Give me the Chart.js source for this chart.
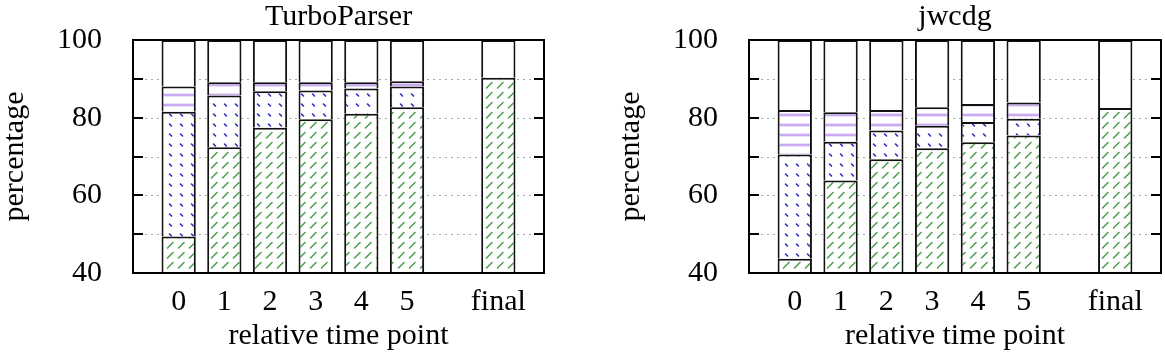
<!DOCTYPE html>
<html><head><meta charset="utf-8">
<script src="https://cdn.jsdelivr.net/npm/chart.js@4/dist/chart.umd.min.js"></script>
<style>
html,body{margin:0;padding:0;background:#fff;width:1165px;height:355px;overflow:hidden}
.w{position:absolute;top:0;height:355px}
canvas{display:block}
</style></head><body>
<div class="w" style="left:0;width:560px"><canvas id="c1" width="560" height="355"></canvas></div>
<div class="w" style="left:616px;width:549px"><canvas id="c2" width="549" height="355"></canvas></div>
<script>
// ---- data (tops of each stacked segment, in percent) ----
const timePoints = ['0', '1', '2', '3', '4', '5', 'final'];
const total = 100;
const tpGreen  = [49.4, 72.4, 77.4, 79.6, 81.0, 82.7, 90.3];
const tpBlue   = [81.5, 85.7, 86.8, 87.0, 87.5, 88.0, null];
const tpPurple = [88.0, 89.1, 89.1, 89.1, 89.1, 89.4, null];
const jwGreen  = [43.7, 63.8, 69.3, 72.1, 73.7, 75.4, 82.5];
const jwBlue   = [70.5, 73.8, 76.7, 77.9, 78.9, 79.7, null];
const jwPurple = [82.0, 81.4, 82.0, 82.7, 83.5, 83.9, null];
const yMin = 40, yMax = 100, yStep = 10;

const FONT = "'Liberation Serif','Times New Roman','DejaVu Serif',serif";
const font = {family: FONT, size: 30, lineHeight: 1, weight: 'normal'};

// slot layout: blank edge, 0..5, blank gap, final, blank edge
const slots = [''].concat(timePoints.slice(0, 6), [''], timePoints.slice(6), ['']);
function toSlots(arr) {
  return slots.map(function (s) {
    const i = timePoints.indexOf(s);
    return (s === '' || i < 0) ? null : arr[i];
  });
}

function makePattern(ctx, kind) {
  const c = document.createElement('canvas');
  const g = c.getContext('2d');
  if (kind === 'green') {
    c.width = 11; c.height = 10;
    g.fillStyle = '#fff'; g.fillRect(0, 0, 11, 10);
    g.strokeStyle = '#52a052'; g.lineWidth = 1.6; g.lineCap = 'round';
    g.beginPath(); g.moveTo(2.5, 8); g.lineTo(8, 2.5); g.stroke();
  } else if (kind === 'blue') {
    c.width = 11; c.height = 10;
    g.fillStyle = '#fff'; g.fillRect(0, 0, 11, 10);
    g.strokeStyle = '#2a2ac0'; g.lineWidth = 1.6; g.lineCap = 'round';
    g.beginPath(); g.moveTo(4.5, 4); g.lineTo(6.5, 6); g.stroke();
  } else {
    c.width = 10; c.height = 10;
    g.fillStyle = '#fff'; g.fillRect(0, 0, 10, 10);
    g.fillStyle = '#dcc4f6'; g.fillRect(0, 3.5, 10, 3);
    g.fillStyle = '#b792ee'; g.fillRect(0, 4.5, 10, 1);
  }
  return ctx.createPattern(c, 'repeat');
}

const framePlugin = {
  id: 'frame',
  beforeDatasetsDraw(chart) {
    const ctx = chart.ctx, a = chart.chartArea, y = chart.scales.y;
    ctx.save();
    ctx.strokeStyle = '#a8a8a8'; ctx.lineWidth = 1; ctx.setLineDash([2, 4]);
    y.ticks.forEach(function (t) {
      if (t.value > y.min && t.value < y.max) {
        const py = Math.round(y.getPixelForValue(t.value)) + 0.5;
        ctx.beginPath(); ctx.moveTo(a.left, py); ctx.lineTo(a.right, py); ctx.stroke();
      }
    });
    ctx.restore();
  },
  afterDatasetsDraw(chart) {
    const ctx = chart.ctx, a = chart.chartArea, y = chart.scales.y;
    ctx.save();
    ctx.strokeStyle = '#000'; ctx.lineWidth = 2; ctx.setLineDash([]);
    ctx.strokeRect(a.left, a.top, a.right - a.left, a.bottom - a.top);
    y.ticks.forEach(function (t) {
      if (t.value > y.min && t.value < y.max) {
        const py = Math.round(y.getPixelForValue(t.value));
        ctx.beginPath();
        ctx.moveTo(a.left, py); ctx.lineTo(a.left + 10, py);
        ctx.moveTo(a.right, py); ctx.lineTo(a.right - 10, py);
        ctx.stroke();
      }
    });
    // chart title, centred over the plot area
    ctx.fillStyle = '#000';
    ctx.font = '30px ' + FONT;
    ctx.textAlign = 'center'; ctx.textBaseline = 'alphabetic';
    ctx.fillText(chart.options.plugins.frameTitle, (a.left + a.right) / 2, 25);
    ctx.restore();
  }
};

function build(id, title, green, blue, purple, padRight) {
  const canvas = document.getElementById(id);
  const ctx = canvas.getContext('2d');
  const g = toSlots(green), b = toSlots(blue), p = toSlots(purple);
  const blueData = g.map(function (v, i) { return (b[i] == null) ? null : [v, b[i]]; });
  const purpleData = b.map(function (v, i) { return (p[i] == null || v == null) ? null : [v, p[i]]; });
  const restData = g.map(function (v, i) {
    if (v == null) return null;
    const top = (p[i] != null) ? p[i] : (b[i] != null ? b[i] : v);
    return [top, total];
  });
  const common = {borderColor: '#111', borderWidth: 2, borderSkipped: 'start',
                  stack: 's', barPercentage: 0.75, categoryPercentage: 1};
  new Chart(ctx, {
    type: 'bar',
    data: {
      labels: slots,
      datasets: [
        Object.assign({label: 'g', data: g, backgroundColor: makePattern(ctx, 'green')}, common),
        Object.assign({label: 'b', data: blueData, backgroundColor: makePattern(ctx, 'blue')}, common),
        Object.assign({label: 'p', data: purpleData, backgroundColor: makePattern(ctx, 'purple')}, common),
        Object.assign({label: 'r', data: restData, backgroundColor: '#fff'}, common)
      ]
    },
    options: {
      responsive: false, animation: false, devicePixelRatio: 1,
      layout: {padding: {left: 0, right: padRight, top: 40, bottom: 0}},
      plugins: {
        legend: {display: false}, tooltip: {enabled: false}, title: {display: false},
        frameTitle: title
      },
      scales: {
        x: {
          stacked: true, offset: false,
          grid: {display: false, drawTicks: true, tickLength: 14}, border: {display: false},
          ticks: {font: font, color: '#000', padding: 0, maxRotation: 0, minRotation: 0, autoSkip: false},
          title: {display: true, text: 'relative time point', font: font, color: '#000', padding: {top: 0, bottom: 4}},
          afterFit: function (s) { s.height = 82; }
        },
        y: {
          stacked: false, min: yMin, max: yMax,
          grid: {display: false, drawTicks: true, tickLength: 31}, border: {display: false},
          ticks: {stepSize: yStep, font: font, color: '#000', padding: 0,
                  callback: function (v) { return (v % 20 === 0) ? String(v) : ''; }},
          title: {display: true, text: 'percentage', font: font, color: '#000', padding: 0},
          afterFit: function (s) { s.width = 133; }
        }
      }
    },
    plugins: [framePlugin]
  });
}

build('c1', 'TurboParser', tpGreen, tpBlue, tpPurple, 16);
build('c2', 'jwcdg', jwGreen, jwBlue, jwPurple, 4);
</script>
</body></html>
